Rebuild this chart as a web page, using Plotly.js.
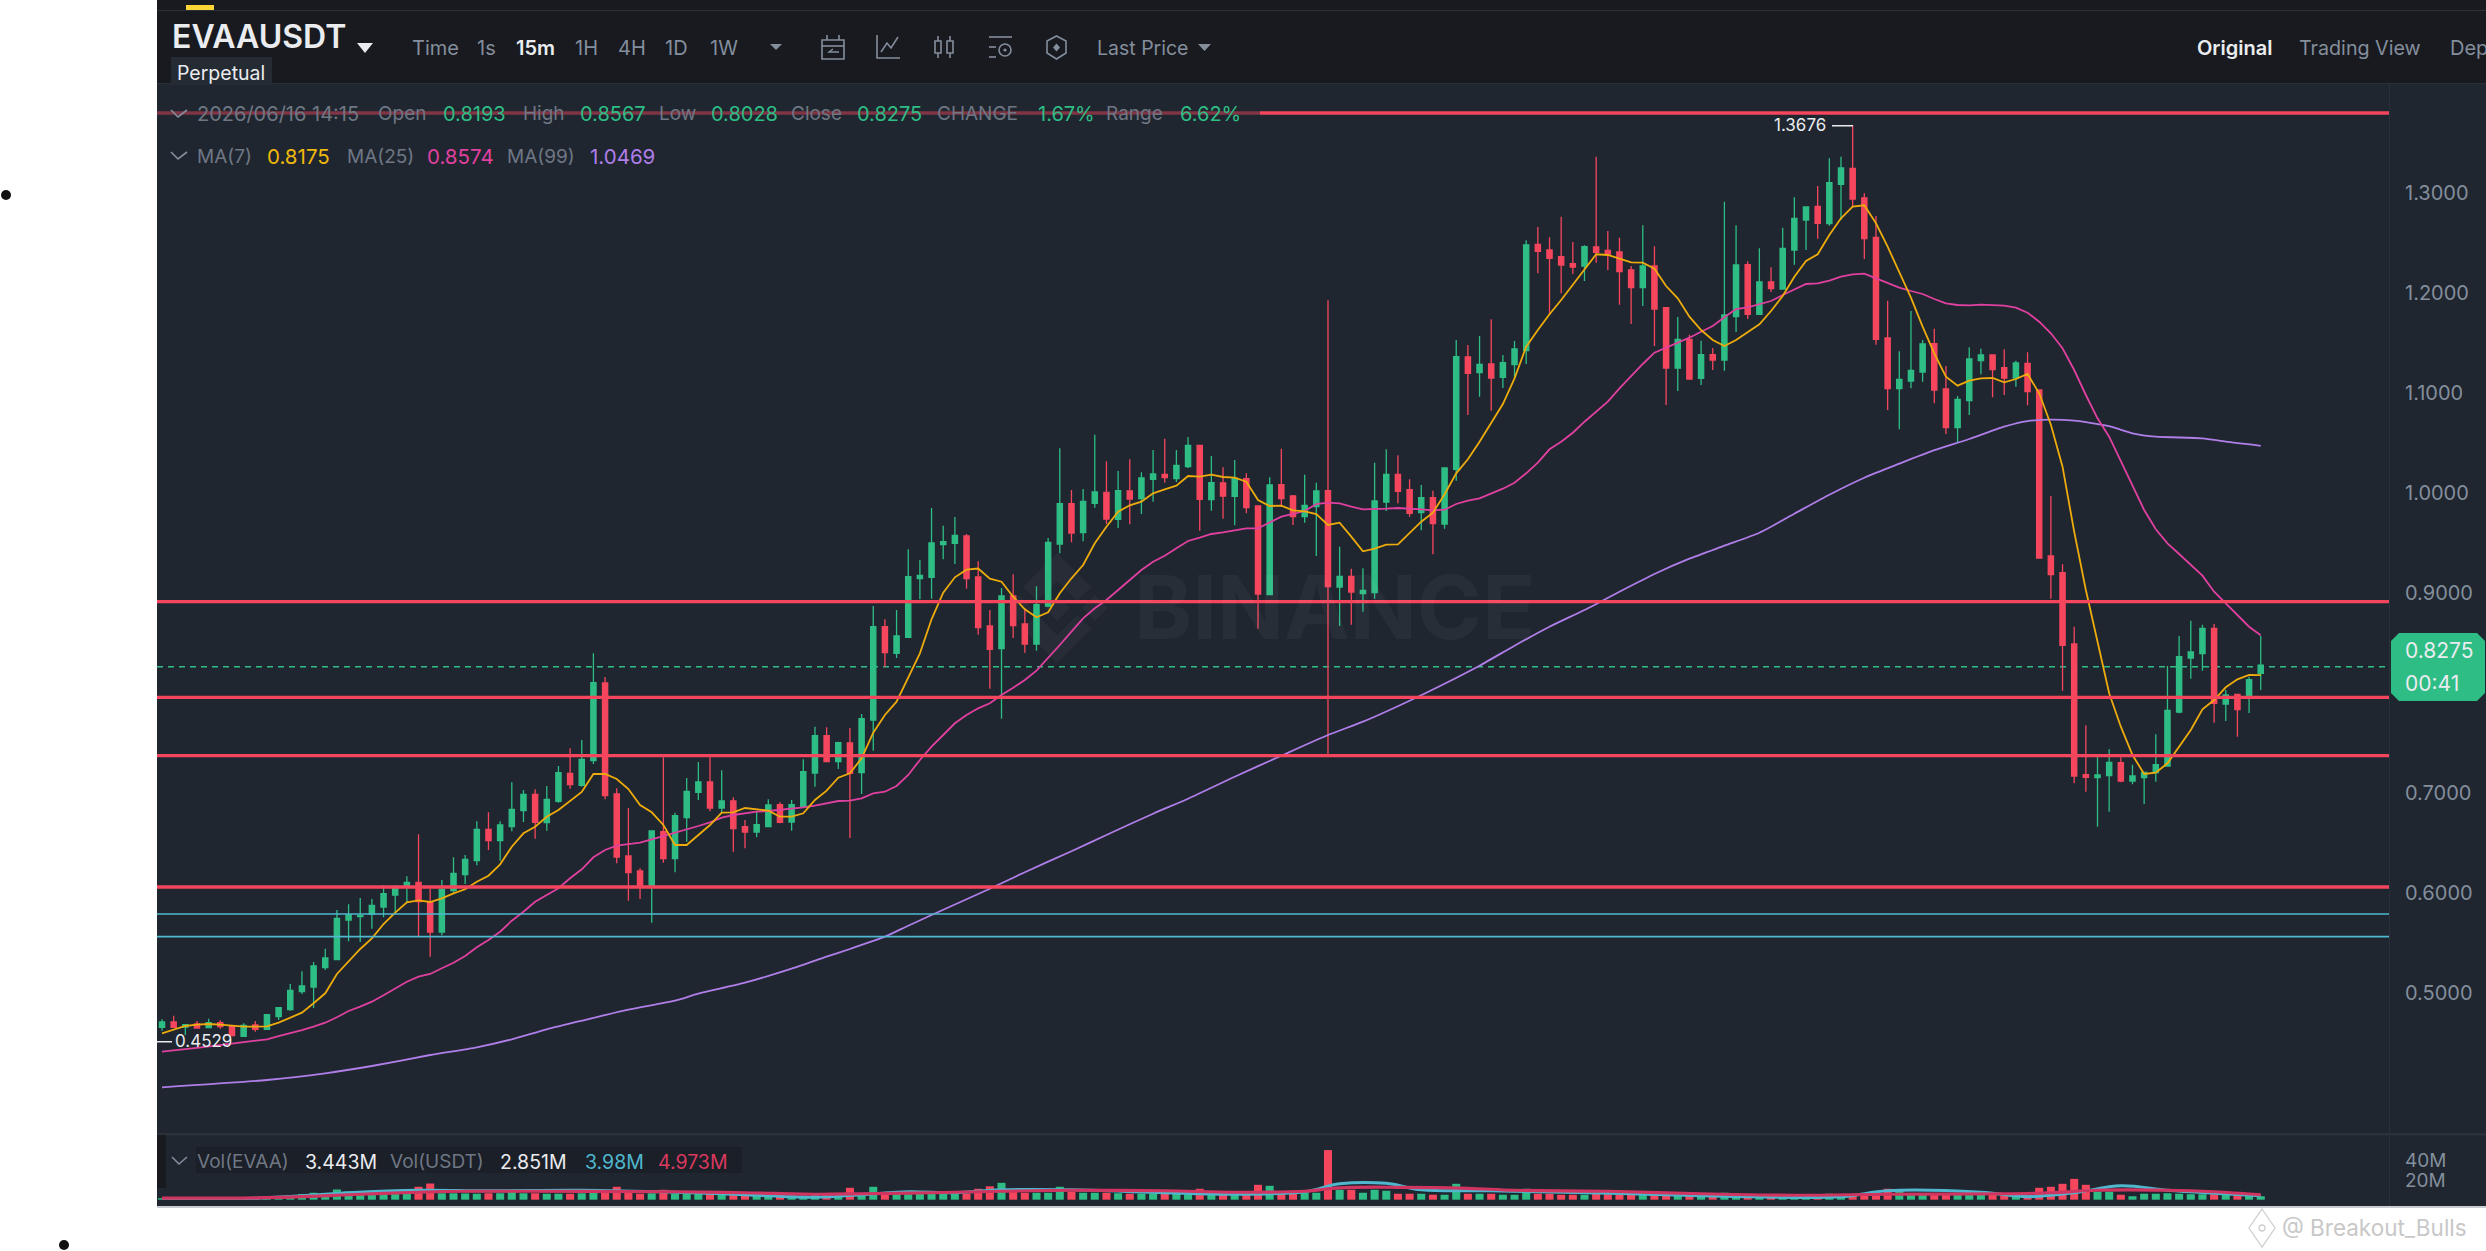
<!DOCTYPE html>
<html><head><meta charset="utf-8">
<script src="https://cdn.plot.ly/plotly-3.0.1.min.js"></script>
<style>html,body{margin:0;padding:0;background:#fff;overflow:hidden}#c{width:2486px;height:1251px}</style>
</head><body><div id="c"></div>
<script>
const open=[
.4654,.4707,.4657,.4687,.4650,.4700,.4667,.4564,.4677,.4634,
.4760,.4830,.5010,.5057,.5250,.5330,.5727,.5760,.5787,.5857,
.5977,.6074,.6104,.5910,.5607,.6020,.6180,.6320,.6634,.6520,
.6660,.6820,.6984,.6700,.6914,.7194,.7074,.7320,.8097,.6987,
.6367,.6217,.6060,.6610,.6340,.6750,.7004,.7107,.6847,.6917,
.6660,.6607,.6660,.6880,.6707,.6860,.7197,.7570,.7310,.7497,
.7200,.7727,.8660,.8394,.8554,.9140,.9154,.9480,.9494,.9567,
.9157,.8667,.8440,.8967,.8687,.8487,.8867,.9487,.9890,.9600,
.9894,1.0004,.9734,1.0017,.9940,1.0134,1.0184,1.0140,1.0260,1.0474,
.9930,1.0097,.9964,1.0140,.9867,.8980,1.0080,.9967,.9760,.9860,
1.0020,.9057,.9164,.8990,.9000,.9907,1.0184,1.0030,.9800,.9950,
.9687,1.0234,1.1357,1.1200,1.1287,1.1154,1.1280,1.1420,1.2484,1.2427,
1.2360,1.2290,1.2267,1.2457,1.2424,1.2407,1.2227,1.2050,1.2267,1.1850,
1.1247,1.1534,1.1144,1.1380,1.1327,1.1760,1.2280,1.1784,1.2107,1.2037,
1.2427,1.2727,1.2864,1.2690,1.3084,1.3244,1.2947,1.2554,1.1547,1.1040,
1.1117,1.1207,1.1490,1.1037,1.0650,1.0920,1.1320,1.1377,1.1250,1.1147,
1.1294,1.1027,.9367,.9200,.8487,.7180,.7150,.7170,.7300,.7117,
.7150,.7200,.7267,.7807,.8347,.8390,.8644,.7887,.7984,.7960,
.8193];
const high=[
.4734,.4770,.4687,.4717,.4740,.4724,.4667,.4694,.4717,.4787,
.4854,.5087,.5214,.5307,.5440,.5827,.5884,.5947,.5937,.6074,
.6074,.6164,.6584,.6040,.6127,.6354,.6377,.6714,.6804,.6714,
.7104,.7027,.7034,.7067,.7267,.7444,.7527,.8394,.8157,.7044,
.6847,.6244,.6617,.7354,.6800,.7147,.7307,.7354,.7224,.6954,
.6727,.6807,.6934,.6904,.6927,.7334,.7660,.7654,.7510,.7647,
.7787,.8867,.8734,.8827,.9434,.9327,.9847,.9670,.9757,.9587,
.9314,.8827,.9047,.9184,.8844,.9064,.9547,1.0444,1.0027,1.0037,
1.0580,1.0314,1.0217,1.0334,1.0204,1.0427,1.0540,1.0427,1.0557,1.0480,
1.0367,1.0254,1.0327,1.0194,.9867,1.0154,1.0440,.9977,1.0180,1.0100,
1.1925,.9460,.9240,.9244,1.0300,1.0434,1.0374,1.0134,1.0077,1.0020,
1.0254,1.1527,1.1477,1.1567,1.1734,1.1377,1.1517,1.2524,1.2657,1.2554,
1.2760,1.2507,1.2474,1.3360,1.2617,1.2550,1.2267,1.2674,1.2464,1.1850,
1.1757,1.1580,1.1520,1.1447,1.2910,1.2674,1.2314,1.2444,1.2254,1.2650,
1.2954,1.2857,1.3067,1.3344,1.3360,1.3676,1.2994,1.2767,1.1920,1.1414,
1.1817,1.1527,1.1640,1.1267,1.0967,1.1454,1.1440,1.1377,1.1434,1.1320,
1.1404,1.1027,.9967,.9284,.8660,.7674,.7384,.7434,.7354,.7280,
.7204,.7584,.8267,.8567,.8720,.8680,.8687,.8027,.7984,.8160,
.8567];
const low=[
.4620,.4654,.4577,.4640,.4650,.4640,.4570,.4564,.4610,.4634,
.4727,.4820,.4987,.4847,.5227,.5324,.5514,.5507,.5640,.5754,
.5800,.5904,.5567,.5360,.5574,.6000,.6087,.6274,.6427,.6320,
.6614,.6707,.6540,.6620,.6900,.7040,.7060,.7287,.6934,.6294,
.5920,.5937,.5700,.6300,.6204,.6510,.6927,.6814,.6794,.6410,
.6444,.6554,.6654,.6694,.6620,.6854,.7060,.7307,.7237,.6547,
.6987,.7420,.8254,.8347,.8554,.8934,.8940,.9334,.9287,.9040,
.8580,.8040,.7740,.8547,.8400,.8420,.8854,.9394,.9504,.9514,
.9850,.9687,.9647,.9684,.9787,.9910,1.0100,1.0107,1.0247,.9620,
.9820,.9740,.9674,.9794,.8640,.8974,.9860,.9677,.9700,.9367,
.7377,.8667,.8680,.8810,.8940,.9817,.9894,.9760,.9624,.9384,
.9640,1.0120,1.0777,1.0960,1.0820,1.1047,1.1144,1.1287,1.2194,1.1777,
1.1994,1.2187,1.2117,1.2300,1.2227,1.1880,1.1687,1.1867,1.1467,1.0877,
1.1017,1.1134,1.1077,1.1227,1.1220,1.1607,1.1737,1.1784,1.2007,1.2034,
1.2280,1.2427,1.2540,1.2670,1.2727,1.2854,1.2337,1.1480,1.0827,1.0634,
1.1044,1.1110,1.0894,1.0587,1.0500,1.0777,1.1184,1.0954,1.0977,1.1060,
1.0874,.9340,.8940,.8020,.7094,.7010,.6660,.6810,.7104,.7084,
.6887,.7110,.7260,.7794,.8140,.8220,.7700,.7717,.7560,.7797,
.8028];
const close=[
.4707,.4654,.4680,.4647,.4700,.4660,.4570,.4674,.4634,.4780,
.4850,.5024,.5067,.5267,.5347,.5744,.5777,.5770,.5874,.5990,
.6040,.6104,.5910,.5607,.6034,.6194,.6334,.6634,.6520,.6677,
.6834,.6984,.6704,.6934,.7200,.7080,.7334,.8100,.6970,.6357,
.6200,.6060,.6617,.6340,.6770,.7014,.7107,.6847,.6917,.6640,
.6607,.6680,.6877,.6704,.6880,.7210,.7570,.7310,.7500,.7194,
.7740,.8660,.8400,.8567,.9160,.9174,.9497,.9510,.9574,.9140,
.8650,.8434,.8967,.8670,.8487,.8880,.9504,.9890,.9597,.9914,
1.0007,.9737,1.0020,.9937,1.0147,1.0187,1.0150,1.0274,1.0474,.9934,
1.0100,.9967,1.0144,.9850,.8987,1.0077,.9940,.9760,.9874,1.0017,
.9060,.9164,.9007,.9024,.9917,1.0184,1.0014,.9794,.9950,.9690,
1.0247,1.1360,1.1194,1.1284,1.1147,1.1300,1.1437,1.2477,1.2414,1.2344,
1.2277,1.2257,1.2460,1.2404,1.2387,1.2210,1.2050,1.2267,1.1837,1.1247,
1.1534,1.1137,1.1380,1.1327,1.1777,1.2277,1.1784,1.2107,1.2040,1.2444,
1.2744,1.2857,1.2694,1.3100,1.3247,1.2937,1.2540,1.1534,1.1040,1.1134,
1.1224,1.1487,1.1027,1.0650,1.0934,1.1337,1.1377,1.1230,1.1147,1.1297,
1.1010,.9347,.9180,.8474,.7167,.7154,.7177,.7304,.7117,.7167,
.7204,.7280,.7824,.8360,.8407,.8644,.7894,.7977,.7830,.8130,
.8275];
const ma7=[
.4594,.4630,.4667,.4680,.4687,.4680,.4667,.4660,.4660,.4664,
.4700,.4747,.4800,.4894,.4994,.5187,.5310,.5437,.5544,.5687,
.5800,.5904,.5924,.5907,.5944,.5994,.6034,.6110,.6170,.6284,
.6460,.6594,.6660,.6760,.6827,.6920,.7007,.7187,.7187,.7137,
.7037,.6877,.6804,.6677,.6477,.6477,.6577,.6677,.6800,.6804,
.6847,.6834,.6820,.6760,.6760,.6794,.6927,.7020,.7150,.7194,
.7344,.7600,.7777,.7910,.8160,.8394,.8734,.9000,.9154,.9230,
.9242,.9140,.9110,.8960,.8834,.8754,.8804,.8994,.9144,.9277,
.9494,.9660,.9810,.9874,.9910,.9994,1.0034,1.0070,1.0167,1.0160,
1.0180,1.0157,1.0150,1.0110,.9927,.9867,.9870,.9824,.9814,.9787,
.9677,.9700,.9560,.9414,.9440,.9480,.9484,.9600,.9710,.9800,
.9985,1.0194,1.0334,1.0510,1.0694,1.0887,1.1144,1.1460,1.1627,1.1784,
1.1927,1.2077,1.2227,1.2384,1.2377,1.2344,1.2304,1.2300,1.2240,1.2067,
1.1944,1.1760,1.1627,1.1527,1.1467,1.1527,1.1604,1.1684,1.1817,1.1967,
1.2160,1.2317,1.2384,1.2577,1.2744,1.2860,1.2874,1.2694,1.2460,1.2210,
1.1950,1.1660,1.1394,1.1160,1.1070,1.1120,1.1144,1.1147,1.1104,1.1137,
1.1187,1.0994,1.0680,1.0260,.9610,.9027,.8494,.7994,.7660,.7377,
.7187,.7200,.7294,.7460,.7627,.7834,.7927,.8054,.8134,.8177,
.8175];
const ma25=[
.4410,.4420,.4435,.4448,.4460,.4475,.4490,.4505,.4520,.4534,
.4565,.4594,.4625,.4660,.4700,.4755,.4817,.4860,.4910,.4975,
.5044,.5110,.5160,.5187,.5244,.5300,.5367,.5454,.5527,.5610,
.5720,.5810,.5910,.5977,.6044,.6144,.6234,.6354,.6427,.6470,
.6487,.6500,.6534,.6567,.6594,.6627,.6667,.6704,.6750,.6777,
.6794,.6810,.6817,.6827,.6840,.6854,.6870,.6894,.6917,.6920,
.6944,.6994,.7010,.7067,.7177,.7327,.7460,.7577,.7694,.7777,
.7844,.7894,.7977,.8050,.8127,.8220,.8344,.8477,.8610,.8744,
.8844,.8927,.9027,.9127,.9227,.9310,.9370,.9444,.9517,.9550,
.9587,.9604,.9627,.9644,.9644,.9700,.9760,.9787,.9817,.9887,
.9900,.9894,.9860,.9834,.9834,.9840,.9847,.9844,.9834,.9824,
.9830,.9887,.9920,.9944,.9994,1.0040,1.0100,1.0194,1.0300,1.0434,
1.0510,1.0600,1.0710,1.0810,1.0910,1.1044,1.1167,1.1287,1.1400,1.1450,
1.1494,1.1550,1.1610,1.1667,1.1754,1.1837,1.1854,1.1887,1.1917,1.1977,
1.2034,1.2087,1.2094,1.2120,1.2160,1.2184,1.2190,1.2144,1.2094,1.2050,
1.2017,1.1987,1.1937,1.1894,1.1877,1.1874,1.1880,1.1874,1.1870,1.1850,
1.1800,1.1710,1.1594,1.1444,1.1227,1.0977,1.0744,1.0560,1.0310,1.0060,
.9827,.9634,.9494,.9387,.9277,.9170,.9010,.8894,.8777,.8660,
.8574];
const ma99Idx=[0,9,14,18,23,27,30,33,36,40,44,46,50,54,57,59,62,64,67,71,74,78,81,85,88,92,96,100,103,107,110,113,116,119,122,125,128,131,134,137,140,143,146,149,152,155,158,160,162,164,167,169,171,175,177,180];
const ma99=[.4054,.4127,.4194,.4267,.4377,.4454,.4534,.4634,.4720,.4830,.4920,.4990,.5100,.5240,.5360,.5437,.5560,.5670,.5830,.6040,.6205,.6415,.6577,.6790,.6940,.7160,.7370,.7577,.7710,.7920,.8090,.8270,.8470,.8660,.8827,.9010,.9187,.9340,.9470,.9600,.9790,.9980,1.0150,1.0290,1.0425,1.0537,1.0660,1.0715,1.0730,1.0720,1.0665,1.0594,1.0560,1.0544,1.0510,1.0469];
const volume=[
1.5,1.6,1.2,1.4,1.4,1.3,2,1.5,1.6,2.2,
3.5,4.7,5.7,7,6.3,10.3,8.3,6.5,6,6.2,
6.5,7,13,16.3,6.5,6.5,6.3,6,6.5,6.5,
10,6.5,6.5,6,6,6,6.5,10,9.6,13,
9.5,6,6.5,10,6,6.5,6,6,5.5,6,
5,5,4.5,4.5,4.5,4,5,5,4.5,12,
5,13,6,6,5.5,6,6,6,6,6,
11,13.5,17,8,7,7,7,13,8,7,
7,7,6.5,6,6,6,6,6,5.5,11,
6,6,5,5,15,14,6,6,7,7,
50,10,10,7,10,9,6,6,6,5,
5,16,6,6,6,5,5,11,6,6,
5,5,5,9,5.5,5,5,5,5,4.5,
4.5,4.5,4.5,4,7,5,5,5,4,4,
4.5,4,4,6,4,4,5,6,11,9,
6,6,6,5,5,5,5,5,4.5,4,
4.5,12,13,16,21,15,8,8,5,3.5,
6,6,6.5,6,5.5,5.5,5.5,5.5,5,5,
3.443];
const volMaLongIdx=[0,8,12,16,22,26,36,44,50,56,60,66,72,78,86,92,98,101,106,112,116,124,132,140,148,158,162,166,172,176,180];
const volMaLong=[1.5,1.8,3,5,7.5,8.5,8.3,8,7,5.5,6,7,8.5,9.5,9,7.5,8.5,12,12.5,11.5,9.5,8.5,6,4.5,5.5,6,7,9.5,9.5,8,4.973];
const volMaShortIdx=[0,8,12,16,22,28,36,44,50,56,60,64,68,72,78,86,92,98,101,105,108,114,118,126,134,144,148,156,160,164,168,172,176,180];
const volMaShort=[1.3,1.5,4,7,9.5,9,9.5,7.5,5,2.5,5,8,7,10,10,7,5.5,8,16,16.5,10,9,8,6,3.5,3,9,7.5,3,7,14,9.5,6.5,3.98];
const redLevels=[1.3797,.8910,.7954,.7370,.6057];
const cyanLevels=[.5787,.5560];
const lastPriceLevel=.8260;
const priceTicks=[1.3,1.2,1.1,1.0,.9,.7,.6,.5];
const priceTickLabels=['1.3000','1.2000','1.1000','1.0000','0.9000','0.7000','0.6000','0.5000'];
const volTicks=[20,40];
const volTickLabels=['20M','40M'];

const UP='#2ebd85',DOWN='#f6465d',BG='#1f2630',HEAD='#181a20',GRAY='#848e9c',DIM='#6f7785',WHITE='#eaecef',FONT='Inter, "Open Sans", sans-serif';
const L=157,PW=2232,H=1251;
const px=x=>(x-L)/PW, py=y=>1-y/H;
const idx=close.map((_,i)=>i);

const rect=(x0,y0,x1,y1,fill,layer)=>({type:'rect',xref:'paper',yref:'paper',x0:px(x0),x1:px(x1),y0:py(y0),y1:py(y1),fillcolor:fill,line:{width:0},layer:layer||'below'});
const poly=(pts,color,width,closed,fill,layer)=>({type:'path',xref:'paper',yref:'paper',
  path:pts.map((p,i)=>(i?'L':'M')+px(p[0])+' '+py(p[1])).join(' ')+(closed?' Z':''),
  line:{color:color||'rgba(0,0,0,0)',width:width||0},fillcolor:fill||'rgba(0,0,0,0)',layer:layer||'above'});
const circle=(x,y,r,fill,color,width)=>({type:'circle',xref:'paper',yref:'paper',x0:px(x-r),x1:px(x+r),y0:py(y+r),y1:py(y-r),fillcolor:fill||'rgba(0,0,0,0)',line:{width:width||0,color:color||'rgba(0,0,0,0)'},layer:'above'});
const text=(t,x,y,color,size,weight,anchor)=>({text:t,xref:'paper',yref:'paper',x:px(x),y:py(y),xanchor:anchor||'left',yanchor:'middle',showarrow:false,borderpad:0,
  font:{family:FONT,size:size||19,color:color||GRAY,weight:weight||400}});

const shapes=[
 rect(L,83,2486,1207,BG),
 rect(L,0,2486,83,HEAD),
 rect(L,10,2486,11,'#2b3139'),
 rect(186,5,214,10,'#fcd535'),
 rect(L,83,2486,84,'#2b3139'),
 rect(2389,84,2390,1207,'#2b3139'),
 rect(L,1133,2486,1135.5,'#2b3139'),
 rect(L,1206,2486,1208,'#c9ccd1'),
 rect(171,57,272,85,'#252b33'),
 // background Binance mark
 poly([[1057,553],[1091,587],[1077,601],[1057,581],[1037,601],[1023,587]],null,0,true,'#272c37','below'),
 poly([[1057,663],[1091,629],[1077,615],[1057,635],[1037,615],[1023,629]],null,0,true,'#272c37','below'),
 poly([[1057,595],[1070,608],[1057,621],[1044,608]],null,0,true,'#272c37','below'),
 poly([[1095,595],[1108,608],[1095,621],[1082,608]],null,0,true,'#272c37','below'),
 poly([[1019,595],[1032,608],[1019,621],[1006,608]],null,0,true,'#272c37','below'),
 {type:'line',xref:'paper',yref:'y',x0:0,x1:1,y0:lastPriceLevel,y1:lastPriceLevel,line:{color:UP,width:1.6,dash:'6px,5px'},layer:'below'},
 ...redLevels.map(v=>({type:'line',xref:'paper',yref:'y',x0:0,x1:1,y0:v,y1:v,line:{color:DOWN,width:3.3},layer:'above'})),
 ...cyanLevels.map(v=>({type:'line',xref:'paper',yref:'y',x0:0,x1:1,y0:v,y1:v,line:{color:'#4fb8cf',width:1.7},layer:'above'})),
 rect(L,104,1260,124,'rgba(31,38,48,0.55)','above'),
 rect(196,1147,742,1173,'rgba(24,26,32,0.55)','above'),
 rect(L,1135,166,1188,HEAD,'above'),
 // header triangles
 poly([[357,43],[373,43],[365,53]],null,0,true,WHITE),
 poly([[770,44],[782,44],[776,50]],null,0,true,GRAY),
 poly([[1198,44],[1211,44],[1204.5,51]],null,0,true,GRAY),
 // chevrons
 poly([[171,110],[178,117],[187,110]],GRAY,1.6),
 poly([[171,152],[178,159],[187,152]],GRAY,1.6),
 poly([[172,1157],[179,1164],[187,1157]],GRAY,1.6),
 // calendar icon
 poly([[822,40],[844,40],[844,59],[822,59]],GRAY,1.6,true),
 poly([[822,46],[844,46]],GRAY,1.6), poly([[827,35],[827,40]],GRAY,1.6), poly([[839,35],[839,40]],GRAY,1.6),
 poly([[839,52],[829,52],[833,49]],GRAY,1.4),
 // line chart icon
 poly([[877,35],[877,58],[900,58]],GRAY,1.6), poly([[881,52],[887,43],[891,48],[898,37]],GRAY,1.6),
 // candles icon
 poly([[935,41],[941,41],[941,53],[935,53]],GRAY,1.6,true), poly([[938,36],[938,41]],GRAY,1.6), poly([[938,53],[938,58]],GRAY,1.6),
 poly([[947,41],[953,41],[953,53],[947,53]],GRAY,1.6,true), poly([[950,36],[950,41]],GRAY,1.6), poly([[950,53],[950,58]],GRAY,1.6),
 // settings-like icon
 poly([[989,37],[1012,37]],GRAY,1.6), poly([[989,47],[996,47]],GRAY,1.6), poly([[989,57],[996,57]],GRAY,1.6),
 circle(1005,50,6,null,GRAY,1.6), circle(1005,50,1.6,GRAY),
 // hexagon icon
 poly([[1056.5,36],[1066,41],[1066,53],[1056.5,59],[1047,53],[1047,41]],GRAY,1.6,true),
 poly([[1056.5,43.5],[1060,47.5],[1056.5,51.5],[1053,47.5]],null,0,true,GRAY),
 // high / low dashes
 rect(1832,125,1853,126.5,WHITE,'above'),
 rect(157,1041,172,1042.5,WHITE,'above'),
 // price tag
 poly([[2399,633],[2477,633],[2485,641],[2485,693],[2477,701],[2399,701],[2391,693],[2391,641]],null,0,true,UP),
 // bullets outside the chart
 circle(6,195,5,'#111'), circle(64,1245,5,'#111'),
 // watermark logo
 poly([[2262,1209],[2275,1228],[2262,1247],[2249,1228]],'#cfcfcf',1.3,true),
 circle(2262,1228,3,null,'#cfcfcf',1.3)
];

const annotations=[
 text('BINANCE',1133,607,'rgba(255,255,255,0.04)',88,700),
 text('EVAAUSDT',171,36,WHITE,32,600),
 text('Perpetual',176,72.7,WHITE,19.5),
 text('Time',411,48,GRAY,20), text('1s',476,48,GRAY,20), text('15m',515,48,WHITE,20,600),
 text('1H',574,48,GRAY,20), text('4H',617,48,GRAY,20), text('1D',664,48,GRAY,20), text('1W',709,48,GRAY,20),
 text('Last Price',1096,48,GRAY,19.5),
 text('Original',2196,48,WHITE,20,600), text('Trading View',2298,48,GRAY,19.7), text('Dep',2449,48,GRAY,20),
 text('2026/06/16 14:15',196,114,DIM,20), text('Open',377,114,DIM,19), text('0.8193',442,114,UP,20),
 text('High',522,114,DIM,19), text('0.8567',579,114,UP,20), text('Low',658,114,DIM,19), text('0.8028',710,114,UP,20),
 text('Close',790,114,DIM,19), text('0.8275',856,114,UP,20), text('CHANGE',936,114,DIM,19), text('1.67%',1037,114,UP,20),
 text('Range',1105,114,DIM,19), text('6.62%',1179,114,UP,20),
 text('MA(7)',196,156,DIM,19), text('0.8175',266,156,'#f0b90b',20.5),
 text('MA(25)',346,156,DIM,19), text('0.8574',426,156,'#e0409f',20.5),
 text('MA(99)',506,156,DIM,19), text('1.0469',589,156,'#b07ee8',20.5),
 text('1.3676',1773,125,WHITE,17),
 text('0.4529',174,1041,WHITE,17),
 text('0.8275',2404,650,WHITE,21), text('00:41',2404,683,WHITE,21),
 text('Vol(EVAA)',196,1161.7,DIM,19), text('3.443M',304,1161.7,WHITE,19.5),
 text('Vol(USDT)',389,1161.7,DIM,19), text('2.851M',499,1161.7,WHITE,19.5),
 text('3.98M',584,1161.7,'#4fb8cf',19.5), text('4.973M',657,1161.7,'#d9395f',19.5),
 text('@ Breakout_Bulls',2281,1227,'#c8c8c8',22.5)
];

const data=[
 {type:'bar',x:idx,y:volume,xaxis:'x',yaxis:'y2',marker:{color:close.map((c,i)=>c>=open[i]?UP:DOWN),line:{width:0}},hoverinfo:'skip'},
 {type:'scatter',mode:'lines',x:volMaShortIdx,y:volMaShort,xaxis:'x',yaxis:'y2',line:{color:'#4fb8cf',width:3,shape:'spline'},hoverinfo:'skip'},
 {type:'scatter',mode:'lines',x:volMaLongIdx,y:volMaLong,xaxis:'x',yaxis:'y2',line:{color:'#cf3560',width:3.2,shape:'spline'},hoverinfo:'skip'},
 {type:'candlestick',x:idx,open:open,high:high,low:low,close:close,xaxis:'x',yaxis:'y',whiskerwidth:0,hoverinfo:'skip',
  increasing:{line:{color:UP,width:1.3},fillcolor:UP},decreasing:{line:{color:DOWN,width:1.3},fillcolor:DOWN}},
 {type:'scatter',mode:'lines',x:ma99Idx,y:ma99,xaxis:'x',yaxis:'y',line:{color:'#b07ee8',width:1.8,shape:'spline',smoothing:.6},hoverinfo:'skip'},
 {type:'scatter',mode:'lines',x:idx,y:ma25,xaxis:'x',yaxis:'y',line:{color:'#e0409f',width:1.8},hoverinfo:'skip'},
 {type:'scatter',mode:'lines',x:idx,y:ma7,xaxis:'x',yaxis:'y',line:{color:'#edab0c',width:1.8},hoverinfo:'skip'}
];

const axisCommon={side:'right',anchor:'x',showgrid:false,zeroline:false,showline:false,ticks:'',fixedrange:true,ticklabelstandoff:15,tickmode:'array',
  tickfont:{family:FONT,size:20,color:GRAY}};
const layout={
 width:2486,height:1251,margin:{l:L,r:97,t:0,b:0,pad:0},showlegend:false,hovermode:false,
 paper_bgcolor:'#ffffff',plot_bgcolor:'rgba(0,0,0,0)',boxgap:.36,bargap:.31,
 xaxis:{range:[-0.43,191],visible:false,fixedrange:true,rangeslider:{visible:false},domain:[0,1]},
 yaxis:{...axisCommon,domain:[1-1134/H,1-83/H],range:[.3587,1.4097],tickvals:priceTicks,ticktext:priceTickLabels},
 yaxis2:{...axisCommon,domain:[1-1207/H,1-1134/H],range:[-7.36,66.2],tickvals:volTicks,ticktext:volTickLabels,tickfont:{family:FONT,size:19,color:GRAY}},
 shapes:shapes,annotations:annotations
};
Plotly.newPlot('c',data,layout,{displayModeBar:false,staticPlot:true});
</script></body></html>
